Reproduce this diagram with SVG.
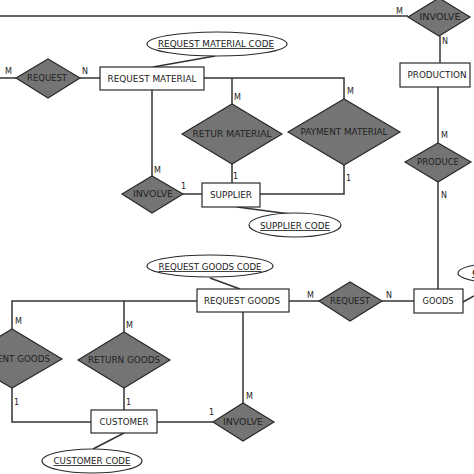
<svg xmlns="http://www.w3.org/2000/svg" width="474" height="474" viewBox="0 0 474 474">
<style>
.ent{fill:#fff;stroke:#2a2a2a;stroke-width:1.2}
.rel{fill:#747474;stroke:#2a2a2a;stroke-width:1.2}
.att{fill:#fff;stroke:#2a2a2a;stroke-width:1.2}
.ln{fill:none;stroke:#333;stroke-width:1.5}
text{font-family:"DejaVu Sans","Liberation Sans",sans-serif;font-size:8.5px;fill:#222;text-anchor:middle}
.u{text-decoration:underline}
.c{font-size:8px;text-anchor:start}
</style>
<rect width="474" height="474" fill="#fff"/>
<g id="connectors">
<polyline class="ln" points="0,16 408,16"/>
<line class="ln" x1="440" y1="36" x2="440" y2="63"/>
<line class="ln" x1="438" y1="87" x2="438" y2="143"/>
<line class="ln" x1="438" y1="182" x2="438" y2="289"/>
<line class="ln" x1="463" y1="302" x2="474" y2="296"/>
<line class="ln" x1="382" y1="301" x2="414" y2="301"/>
<line class="ln" x1="289" y1="301" x2="319" y2="301"/>
<line class="ln" x1="210" y1="278" x2="240" y2="289"/>
<polyline class="ln" points="197,301 12,301 12,329"/>
<line class="ln" x1="124" y1="301" x2="124" y2="332"/>
<polyline class="ln" points="12,388 12,422 91,422"/>
<line class="ln" x1="124" y1="388" x2="124" y2="410"/>
<line class="ln" x1="157" y1="422" x2="213" y2="422"/>
<line class="ln" x1="243" y1="403" x2="243" y2="312"/>
<line class="ln" x1="124" y1="433" x2="93" y2="449"/>
<line class="ln" x1="0" y1="78" x2="16" y2="78"/>
<line class="ln" x1="80" y1="78" x2="100" y2="78"/>
<line class="ln" x1="215" y1="56" x2="153" y2="67"/>
<polyline class="ln" points="204,78 344,78 344,99"/>
<line class="ln" x1="232" y1="78" x2="232" y2="104"/>
<line class="ln" x1="152" y1="90" x2="152" y2="176"/>
<line class="ln" x1="232" y1="164" x2="232" y2="183"/>
<line class="ln" x1="183" y1="194" x2="202" y2="194"/>
<polyline class="ln" points="344,165 344,194 260,194"/>
<line class="ln" x1="237" y1="207" x2="290" y2="214"/>
</g>
<g id="involve-top"><polygon class="rel" points="408,17 439,-2 470,17 439,36"/><text x="440" y="20" textLength="41" lengthAdjust="spacingAndGlyphs">INVOLVE</text></g>
<g id="production"><rect class="ent" x="400" y="63" width="70" height="24"/><text x="437" y="78" textLength="59" lengthAdjust="spacingAndGlyphs">PRODUCTION</text></g>
<g id="produce"><polygon class="rel" points="405,162 438,143 471,162 438,182"/><text x="438" y="165" textLength="42" lengthAdjust="spacingAndGlyphs">PRODUCE</text></g>
<g id="goods"><rect class="ent" x="414" y="289" width="49" height="24"/><text x="438" y="304" textLength="31" lengthAdjust="spacingAndGlyphs">GOODS</text></g>
<g id="goods-code"><ellipse class="att" cx="512" cy="273" rx="54" ry="11"/><text class="u" x="512" y="276" textLength="80" lengthAdjust="spacingAndGlyphs">GOODS CODE</text></g>
<g id="request-lower"><polygon class="rel" points="319,301 350,282 382,301 350,321"/><text x="350" y="304" textLength="40" lengthAdjust="spacingAndGlyphs">REQUEST</text></g>
<g id="request-goods"><rect class="ent" x="197" y="289" width="92" height="23"/><text x="242" y="304" textLength="76" lengthAdjust="spacingAndGlyphs">REQUEST GOODS</text></g>
<g id="request-goods-code"><ellipse class="att" cx="210" cy="266" rx="63" ry="11"/><text class="u" x="210" y="270" textLength="103" lengthAdjust="spacingAndGlyphs">REQUEST GOODS CODE</text></g>
<g id="payment-goods"><polygon class="rel" points="-38,359 12,329 62,359 12,388"/><text x="12" y="362" textLength="76" lengthAdjust="spacingAndGlyphs">PAYMENT GOODS</text></g>
<g id="return-goods"><polygon class="rel" points="78,360 124,332 170,360 124,388"/><text x="124" y="363" textLength="72" lengthAdjust="spacingAndGlyphs">RETURN GOODS</text></g>
<g id="customer"><rect class="ent" x="91" y="410" width="66" height="23"/><text x="124" y="425" textLength="49" lengthAdjust="spacingAndGlyphs">CUSTOMER</text></g>
<g id="involve-lower"><polygon class="rel" points="213,422 243,403 274,422 243,441"/><text x="243" y="425" textLength="40" lengthAdjust="spacingAndGlyphs">INVOLVE</text></g>
<g id="customer-code"><ellipse class="att" cx="92" cy="461" rx="50" ry="12"/><text class="u" x="92" y="464" textLength="77" lengthAdjust="spacingAndGlyphs">CUSTOMER CODE</text></g>
<g id="request-upper"><polygon class="rel" points="16,78 48,59 80,78 48,98"/><text x="47" y="81" textLength="40" lengthAdjust="spacingAndGlyphs">REQUEST</text></g>
<g id="request-material"><rect class="ent" x="100" y="67" width="104" height="23"/><text x="152" y="82" textLength="89" lengthAdjust="spacingAndGlyphs">REQUEST MATERIAL</text></g>
<g id="request-material-code"><ellipse class="att" cx="217" cy="44" rx="70" ry="12"/><text class="u" x="216" y="47" textLength="116" lengthAdjust="spacingAndGlyphs">REQUEST MATERIAL CODE</text></g>
<g id="involve-upper"><polygon class="rel" points="122,194 152,176 183,194 152,213"/><text x="153" y="197" textLength="40" lengthAdjust="spacingAndGlyphs">INVOLVE</text></g>
<g id="retur-material"><polygon class="rel" points="182,134 232,104 282,134 232,164"/><text x="232" y="137" textLength="79" lengthAdjust="spacingAndGlyphs">RETUR MATERIAL</text></g>
<g id="payment-material"><polygon class="rel" points="288,132 344,99 400,132 344,165"/><text x="344" y="135" textLength="87" lengthAdjust="spacingAndGlyphs">PAYMENT MATERIAL</text></g>
<g id="supplier"><rect class="ent" x="202" y="183" width="58" height="24"/><text x="231" y="198" textLength="42" lengthAdjust="spacingAndGlyphs">SUPPLIER</text></g>
<g id="supplier-code"><ellipse class="att" cx="295" cy="225" rx="46" ry="12"/><text class="u" x="295" y="229" textLength="70" lengthAdjust="spacingAndGlyphs">SUPPLIER CODE</text></g>
<g id="cardinalities">
<text class="c" x="396" y="14">M</text>
<text class="c" x="442" y="44">N</text>
<text class="c" x="441" y="138">M</text>
<text class="c" x="441" y="198">N</text>
<text class="c" x="307" y="298">M</text>
<text class="c" x="386" y="298">N</text>
<text class="c" x="15" y="324">M</text>
<text class="c" x="126" y="328">M</text>
<text class="c" x="14" y="405">1</text>
<text class="c" x="126" y="405">1</text>
<text class="c" x="209" y="415">1</text>
<text class="c" x="246" y="399">M</text>
<text class="c" x="5" y="74">M</text>
<text class="c" x="82" y="74">N</text>
<text class="c" x="234" y="100">M</text>
<text class="c" x="347" y="94">M</text>
<text class="c" x="154" y="173">M</text>
<text class="c" x="181" y="189">1</text>
<text class="c" x="233" y="179">1</text>
<text class="c" x="346" y="181">1</text>
</g>
</svg>
